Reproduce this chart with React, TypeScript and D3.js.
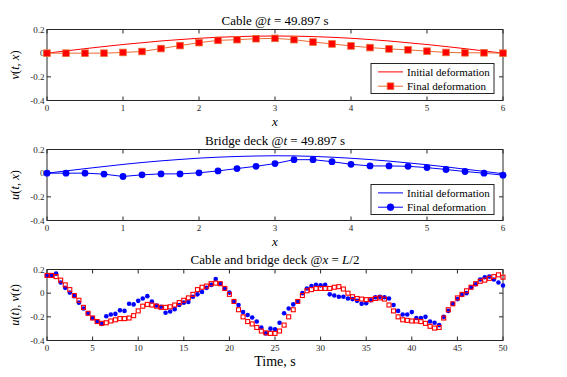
import React from "react";
import * as d3 from "d3";

// ---------- data ----------
const xPos = [0, 0.25, 0.5, 0.75, 1, 1.25, 1.5, 1.75, 2, 2.25, 2.5, 2.75, 3, 3.25, 3.5, 3.75, 4, 4.25, 4.5, 4.75, 5, 5.25, 5.5, 5.75, 6];
const cableInitial = [0, 0.019, 0.038, 0.056, 0.073, 0.088, 0.103, 0.115, 0.126, 0.134, 0.14, 0.144, 0.145, 0.144, 0.14, 0.134, 0.126, 0.115, 0.103, 0.088, 0.073, 0.056, 0.038, 0.019, 0];
const cableFinal = [0, 0, 0, 0, 0.006, 0.014, 0.039, 0.064, 0.089, 0.108, 0.114, 0.122, 0.125, 0.114, 0.094, 0.078, 0.061, 0.047, 0.036, 0.028, 0.017, 0.006, 0.003, 0.003, 0];
const deckInitial = [0, 0.019, 0.038, 0.056, 0.074, 0.09, 0.104, 0.116, 0.127, 0.135, 0.141, 0.145, 0.147, 0.146, 0.142, 0.135, 0.126, 0.115, 0.102, 0.087, 0.071, 0.053, 0.034, 0.015, -0.005];
const deckFinal = [0, 0, 0, -0.008, -0.028, -0.014, -0.006, -0.006, 0.003, 0.019, 0.039, 0.058, 0.081, 0.114, 0.114, 0.097, 0.075, 0.061, 0.061, 0.058, 0.047, 0.031, 0.014, 0, -0.017];

const timeStep = 0.5;
const cableMid = [
  0.15, 0.15, 0.14, 0.11, 0.07, 0.03, -0.02, -0.06, -0.12, -0.17,
  -0.21, -0.24, -0.255, -0.25, -0.235, -0.225, -0.215, -0.215, -0.21, -0.19,
  -0.15, -0.11, -0.095, -0.1, -0.11, -0.12, -0.12, -0.115, -0.1, -0.08,
  -0.06, -0.04, -0.01, 0.03, 0.05, 0.06, 0.08, 0.085, 0.08, 0.04,
  -0.01, -0.07, -0.14, -0.2, -0.24, -0.26, -0.29, -0.32, -0.335, -0.34,
  -0.34, -0.32, -0.27, -0.2, -0.14, -0.07, -0.02, 0.02, 0.03, 0.04,
  0.04, 0.04, 0.04, 0.05, 0.055, 0.035, 0.0, -0.03, -0.045, -0.05,
  -0.055, -0.055, -0.045, -0.04, -0.05, -0.1, -0.15, -0.2, -0.225, -0.23,
  -0.235, -0.235, -0.24, -0.255, -0.28, -0.295, -0.29, -0.21, -0.14, -0.09,
  -0.04, -0.01, 0.02, 0.05, 0.08, 0.1, 0.11, 0.125, 0.14, 0.155,
  0.135,
];
const deckMid = [
  0.15, 0.15, 0.165, 0.09, 0.045, 0.005, -0.025, -0.08, -0.13, -0.17,
  -0.21, -0.24, -0.26, -0.195, -0.18, -0.175, -0.145, -0.15, -0.09, -0.095,
  -0.065, -0.045, -0.025, -0.07, -0.105, -0.115, -0.165, -0.155, -0.135, -0.1,
  -0.08, -0.075, -0.03, -0.01, 0.01, 0.045, 0.07, 0.12, 0.08, 0.04,
  0.005, -0.07, -0.1, -0.16, -0.185, -0.205, -0.24, -0.29, -0.34, -0.3,
  -0.305, -0.25, -0.17, -0.13, -0.095, -0.07, 0.0, 0.04, 0.06, 0.07,
  0.066, 0.07, -0.01, -0.02, -0.03, -0.03, -0.045, -0.05, -0.065, -0.09,
  -0.085, -0.06, -0.035, -0.03, -0.035, -0.045, -0.1, -0.15, -0.18, -0.18,
  -0.16, -0.21, -0.21, -0.2, -0.24, -0.25, -0.27, -0.2, -0.15, -0.09,
  -0.05, -0.015, 0.0, 0.05, 0.075, 0.115, 0.135, 0.14, 0.115, 0.09,
  0.065,
];

const xTicks = [0, 1, 2, 3, 4, 5, 6];
const timeTicks = [0, 5, 10, 15, 20, 25, 30, 35, 40, 45, 50];
const yTicks = [0.2, 0, -0.2, -0.4];

// ---------- layout ----------
const W = 567;
const H = 377;
const LEFT = 47;
const RIGHT = 503;
const FONT = "'Liberation Serif', 'Times New Roman', serif";
const AXIS = "#262626";
const TICK = 4;

type Panel = { top: number; bottom: number };
const P1: Panel = { top: 29.5, bottom: 100.5 };
const P2: Panel = { top: 149.5, bottom: 220.5 };
const P3: Panel = { top: 269.5, bottom: 340.5 };

function Axes({ p, x, ticks }: { p: Panel; x: d3.ScaleLinear<number, number>; ticks: number[] }) {
  const y = d3.scaleLinear().domain([-0.4, 0.2]).range([p.bottom, p.top]);
  return (
    <g>
      <rect x={LEFT} y={p.top} width={RIGHT - LEFT} height={p.bottom - p.top} fill="none" stroke={AXIS} strokeWidth={1} />
      {ticks.map((t) => (
        <g key={"x" + t}>
          <line x1={x(t)} x2={x(t)} y1={p.bottom} y2={p.bottom - TICK} stroke={AXIS} />
          <line x1={x(t)} x2={x(t)} y1={p.top} y2={p.top + TICK} stroke={AXIS} />
          <text x={x(t)} y={p.bottom + 10.5} fontSize={9} textAnchor="middle" fill={AXIS} fontFamily={FONT}>{String(t)}</text>
        </g>
      ))}
      {yTicks.map((t) => (
        <g key={"y" + t}>
          <line x1={LEFT} x2={LEFT + TICK} y1={y(t)} y2={y(t)} stroke={AXIS} />
          <line x1={RIGHT} x2={RIGHT - TICK} y1={y(t)} y2={y(t)} stroke={AXIS} />
          <text x={LEFT - 2.5} y={y(t) + 3} fontSize={9} textAnchor="end" fill={AXIS} fontFamily={FONT}>{t === 0 ? "0" : String(t)}</text>
        </g>
      ))}
    </g>
  );
}

function Legend({ top, color, lineColor, marker }: { top: number; color: string; lineColor: string; marker: "square" | "circle" }) {
  const x0 = 371, x1 = 494;
  const r1 = top + 8.4, r2 = top + 22.7;
  const lx0 = 378, lx1 = 403, mx = 390.5;
  return (
    <g fontFamily={FONT}>
      <rect x={x0} y={top} width={x1 - x0} height={30} fill="#fff" stroke={AXIS} strokeWidth={1} />
      <line x1={lx0} x2={lx1} y1={r1} y2={r1} stroke={color} strokeWidth={1} />
      <text x={407} y={r1 + 3.7} fontSize={11} fill="#000">Initial deformation</text>
      <line x1={lx0} x2={lx1} y1={r2} y2={r2} stroke={lineColor} strokeWidth={1} />
      {marker === "square" ? (
        <rect x={mx - 3.3} y={r2 - 3.3} width={6.6} height={6.6} fill={color} stroke={lineColor} strokeWidth={0.8} />
      ) : (
        <circle cx={mx} cy={r2} r={3.4} fill={color} stroke={lineColor} strokeWidth={0.6} />
      )}
      <text x={407} y={r2 + 3.7} fontSize={11} fill="#000">Final deformation</text>
    </g>
  );
}

export default function App() {
  const xs = d3.scaleLinear().domain([0, 6]).range([LEFT, RIGHT]);
  const xt = d3.scaleLinear().domain([0, 50]).range([LEFT, RIGHT]);
  const y1 = d3.scaleLinear().domain([-0.4, 0.2]).range([P1.bottom, P1.top]);
  const y2 = d3.scaleLinear().domain([-0.4, 0.2]).range([P2.bottom, P2.top]);
  const y3 = d3.scaleLinear().domain([-0.4, 0.2]).range([P3.bottom, P3.top]);
  const times = cableMid.map((_, i) => i * timeStep);

  const smooth1 = d3.line<number>().x((_, i) => xs(xPos[i])).y((d) => y1(d)).curve(d3.curveMonotoneX);
  const lin1 = d3.line<number>().x((_, i) => xs(xPos[i])).y((d) => y1(d));
  const smooth2 = d3.line<number>().x((_, i) => xs(xPos[i])).y((d) => y2(d)).curve(d3.curveMonotoneX);
  const lin2 = d3.line<number>().x((_, i) => xs(xPos[i])).y((d) => y2(d));

  const RED = "#ff0000";
  const ORANGE = "#ec6a32";
  const BLUE = "#0000ff";

  return (
    <svg width={W} height={H} viewBox={`0 0 ${W} ${H}`} style={{ position: "absolute", left: 0, top: 0, background: "#fff" }} fontFamily={FONT}>
      <rect width={W} height={H} fill="#fff" />

      {/* Panel 1 */}
      <text x={275} y={24.5} fontSize={13} textAnchor="middle" fill="#000">
        Cable @<tspan fontStyle="italic">t</tspan> = 49.897 s
      </text>
      <Axes p={P1} x={xs} ticks={xTicks} />
      <path d={smooth1(cableInitial) || ""} fill="none" stroke={RED} strokeWidth={1} />
      <path d={lin1(cableFinal) || ""} fill="none" stroke={ORANGE} strokeWidth={1} />
      {cableFinal.map((d, i) => (
        <rect key={i} x={xs(xPos[i]) - 3.3} y={y1(d) - 3.3} width={6.6} height={6.6} fill={RED} stroke={ORANGE} strokeWidth={0.8} />
      ))}
      <Legend top={63.5} color={RED} lineColor={ORANGE} marker="square" />
      <text x={275} y={126} fontSize={13} fontStyle="italic" textAnchor="middle" fill="#000">x</text>
      <text transform="translate(19,65) rotate(-90)" fontSize={12.5} textAnchor="middle" fill="#000">
        <tspan fontStyle="italic">v</tspan>(<tspan fontStyle="italic">t</tspan>, <tspan fontStyle="italic">x</tspan>)
      </text>

      {/* Panel 2 */}
      <text x={275} y={144.5} fontSize={13} textAnchor="middle" fill="#000">
        Bridge deck @<tspan fontStyle="italic">t</tspan> = 49.897 s
      </text>
      <Axes p={P2} x={xs} ticks={xTicks} />
      <path d={smooth2(deckInitial) || ""} fill="none" stroke={BLUE} strokeWidth={1} />
      <path d={lin2(deckFinal) || ""} fill="none" stroke={BLUE} strokeWidth={1} />
      {deckFinal.map((d, i) => (
        <circle key={i} cx={xs(xPos[i])} cy={y2(d)} r={3.4} fill={BLUE} />
      ))}
      <Legend top={184.5} color={BLUE} lineColor={BLUE} marker="circle" />
      <text x={275} y={245.5} fontSize={13} fontStyle="italic" textAnchor="middle" fill="#000">x</text>
      <text transform="translate(19,185) rotate(-90)" fontSize={12.5} textAnchor="middle" fill="#000">
        <tspan fontStyle="italic">u</tspan>(<tspan fontStyle="italic">t</tspan>, <tspan fontStyle="italic">x</tspan>)
      </text>

      {/* Panel 3 */}
      <text x={275} y={264} fontSize={13} textAnchor="middle" fill="#000">
        Cable and bridge deck @<tspan fontStyle="italic">x</tspan> = <tspan fontStyle="italic">L</tspan>/2
      </text>
      <Axes p={P3} x={xt} ticks={timeTicks} />
      {deckMid.map((d, i) => (
        <circle key={"b" + i} cx={xt(times[i])} cy={y3(d)} r={2.3} fill={BLUE} />
      ))}
      {cableMid.map((d, i) => (
        <rect key={"r" + i} x={xt(times[i]) - 2} y={y3(d) - 2} width={4} height={4} fill="none" stroke={RED} strokeWidth={1.1} />
      ))}
      <text x={275} y={366} fontSize={14} textAnchor="middle" fill="#000">Time, s</text>
      <text transform="translate(19,305) rotate(-90)" fontSize={12.5} textAnchor="middle" fill="#000">
        <tspan fontStyle="italic">u</tspan>(<tspan fontStyle="italic">t</tspan>), <tspan fontStyle="italic">v</tspan>(<tspan fontStyle="italic">t</tspan>)
      </text>
    </svg>
  );
}
